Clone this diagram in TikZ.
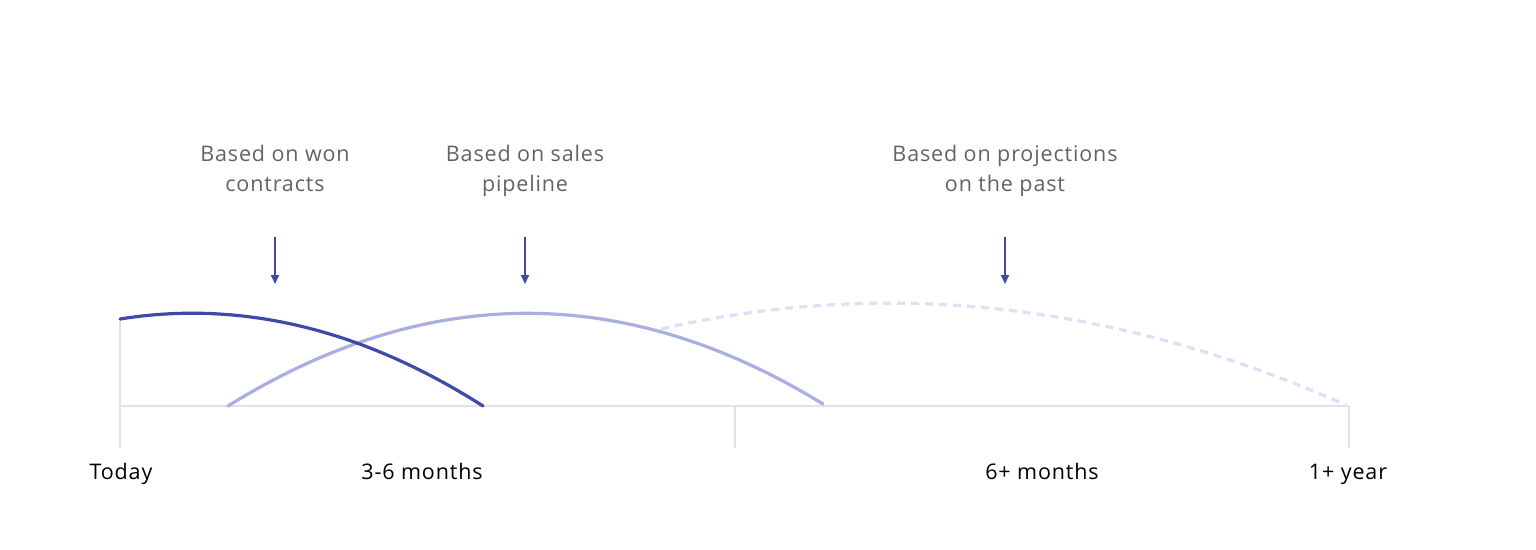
\documentclass[tikz,border=0pt]{standalone}
\usepackage{fontspec}
\setmainfont{Open Sans}[LetterSpace=4]
\usetikzlibrary{arrows.meta}
\definecolor{darkblue}{HTML}{3F4AA6}
\definecolor{lightblue}{HTML}{A9AEE3}
\definecolor{paleblue}{HTML}{DDE0F6}
\definecolor{axisgray}{HTML}{E0E0EE}
\definecolor{notegray}{HTML}{606369}
\tikzset{
  note/.style={align=center,text=notegray,font=\fontsize{21.5}{30}\selectfont,inner sep=0pt},
  ticklabel/.style={text=black,font=\fontsize{21.5}{24}\selectfont,inner sep=0pt,anchor=base},
  axisline/.style={draw=axisgray,line width=2pt},
  pointer/.style={draw=darkblue,line width=1.8pt,-{Triangle[length=9pt,width=8pt]}},
  wave/.style={line width=3.2pt,line cap=round},
}
\begin{document}
\begin{tikzpicture}[x=1pt,y=-1pt]
\useasboundingbox[fill=white] (0,0) rectangle (1536,549);
% axis
\coordinate (a0) at (120,406);
\coordinate (a1) at (1349,406);
\coordinate (t0top) at (120,320);
\coordinate (t0bot) at (120,448);
\coordinate (t1top) at (735,406);
\coordinate (t1bot) at (735,448);
\coordinate (t2top) at (1349,406);
\coordinate (t2bot) at (1349,448);
\draw[axisline] (a0) -- (a1);
\draw[axisline] (t0top) -- (t0bot);
\draw[axisline] (t1top) -- (t1bot);
\draw[axisline] (t2top) -- (t2bot);
% curves
\draw[wave,draw=paleblue,dash pattern=on 8pt off 6pt,line cap=butt]
  (661,329) .. controls (889,277) and (1118,304) .. (1346,405);
\draw[wave,draw=lightblue]
  (228,406) .. controls (426,283) and (625,282.5) .. (823,404);
\draw[wave,draw=darkblue]
  (120,319) .. controls (241,299.6) and (362,329) .. (483,406);
% notes
\node[note] (n1) at (275,170) {\strut Based on won\\\strut contracts};
\node[note] (n2) at (525,170) {\strut Based on sales\\\strut pipeline};
\node[note] (n3) at (1005,170) {\strut Based on projections\\\strut on the past};
\coordinate (p1s) at (275,237); \coordinate (p1e) at (275,284);
\coordinate (p2s) at (525,237); \coordinate (p2e) at (525,284);
\coordinate (p3s) at (1005,237); \coordinate (p3e) at (1005,284);
\draw[pointer] (p1s) -- (p1e);
\draw[pointer] (p2s) -- (p2e);
\draw[pointer] (p3s) -- (p3e);
% tick labels
\node[ticklabel] (l0) at (121,479) {Today};
\node[ticklabel] (l1) at (422,479) {3-6 months};
\node[ticklabel] (l2) at (1042,479) {6+ months};
\node[ticklabel] (l3) at (1348,479) {1+ year};
\end{tikzpicture}
\end{document}
